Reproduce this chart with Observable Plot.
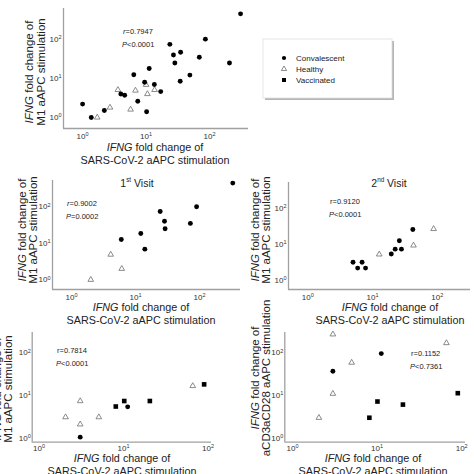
<!DOCTYPE html>
<html>
<head>
<meta charset="utf-8">
<script src="https://cdn.jsdelivr.net/npm/d3@7"></script>
<script src="https://cdn.jsdelivr.net/npm/@observablehq/plot@0.6"></script>
<style>
  html, body { margin: 0; padding: 0; background: #fff; }
  #fig { position: relative; width: 474px; height: 474px; overflow: hidden; background: #fff;
         font-family: "Liberation Sans", Arial, sans-serif; }
  #fig svg { position: absolute; left: 0; top: 0; }
</style>
</head>
<body>
<div id="fig"></div>
<script>
// ---- Panel A: all donors, M1 vs SARS-CoV-2 aAPC ----
const allConvX = [1.0, 1.37, 2.2, 4.0, 4.6, 6.4, 7.4, 9.5, 10.2, 11.2, 13.5, 17, 23.7, 27, 28.4, 35, 34.5, 49, 69, 86, 206, 308];
const allConvY = [2.2, 1.0, 1.5, 4.0, 3.7, 12.4, 2.6, 8.0, 1.4, 18, 7.0, 4.6, 75, 40, 25, 47, 8.5, 12.2, 35, 102, 25, 455];
const allHealthyX = [1.7, 2.7, 3.6, 5.7, 6.8, 10, 10.5, 13.6];
const allHealthyY = [1.0, 1.8, 5.1, 1.6, 4.9, 6.9, 4.0, 5.1];

// ---- Panel B: 1st visit ----
const v1ConvX = [6.0, 12.1, 14, 24.3, 28.4, 29, 72, 90, 331];
const v1ConvY = [12.7, 18.5, 6.9, 74, 40, 25, 35, 100, 445];
const v1HealthyX = [2.0, 4.1, 6.1];
const v1HealthyY = [1.0, 4.9, 2.0];

// ---- Panel C: 2nd visit ----
const v2ConvX = [5.0, 5.9, 6.9, 7.8, 19.5, 22.4, 26, 28, 42];
const v2ConvY = [3.2, 2.2, 3.2, 2.2, 5.4, 7.4, 12.6, 7.4, 26];
const v2HealthyX = [12.7, 43, 88];
const v2HealthyY = [5.3, 9.4, 27];

// ---- Panel D: vaccinated comparison, M1 aAPC ----
const m1HealthyX = [2.06, 3.07, 3.07, 5.1, 66];
const m1HealthyY = [3.1, 7.4, 2.1, 3.1, 16.7];
const m1ConvX = [3.07, 11.2];
const m1ConvY = [1.05, 5.4];
const m1VaccX = [8.1, 10.2, 20.5, 90];
const m1VaccY = [5.5, 7.4, 7.4, 18.2];

// ---- Panel E: vaccinated comparison, aCD3aCD28 aAPC ----
const cdHealthyX = [2.05, 3.0, 3.0, 5.0, 66];
const cdHealthyY = [3.0, 272, 11, 59, 170];
const cdConvX = [3.0, 11.2];
const cdConvY = [37, 96];
const cdVaccX = [8.1, 10.1, 20.2, 90];
const cdVaccY = [3.0, 7.2, 6.1, 11.3];

// ---- Shared labels ----
const groups = ["Convalescent", "Healthy", "Vaccinated"];
const tickValues = [1, 10, 100];
const stats = [
  {r: "r=0.7947", p: "<0.0001", italicR: true},
  {r: "r=0.9002", p: "=0.0002", italicR: true},
  {r: "r=0.9120", p: "<0.0001", italicR: false},
  {r: "r=0.7814", p: "<0.0001", italicR: false},
  {r: "r=0.1152", p: "<0.7361", italicR: false}
];

const W = 474, H = 474;
const fig = d3.select("#fig");
const rows = (xs, ys) => xs.map((x, i) => ({x, y: ys[i]}));
const fmtTick = d => "10^" + Math.round(Math.log10(d));
const AXIS = "#a0a0a0";

function panel({frame, xDomain, yDomain, conv, healthy, vacc, yPad = 2, xPad = 5}) {
  const [x0, x1, y0, y1] = frame;
  const marks = [
    Plot.ruleX([xDomain[0]], {stroke: AXIS, strokeWidth: 1.3}),
    Plot.ruleY([yDomain[0]], {stroke: AXIS, strokeWidth: 1.3})
  ];
  if (healthy) marks.push(Plot.dot(healthy, {x: "x", y: "y", symbol: "triangle", r: 2.1, stroke: "#6f6f6f", fill: "white", strokeWidth: 0.8}));
  if (conv) marks.push(Plot.dot(conv, {x: "x", y: "y", symbol: "circle", r: 2.45, fill: "black", stroke: "none"}));
  if (vacc) marks.push(Plot.dot(vacc, {x: "x", y: "y", symbol: "square", r: 2.6, fill: "black", stroke: "none"}));
  const svg = Plot.plot({
    width: W, height: H,
    marginLeft: x0, marginRight: W - x1, marginTop: y0, marginBottom: H - y1,
    x: {type: "log", domain: xDomain, ticks: tickValues, tickFormat: fmtTick, tickSize: 0, tickPadding: xPad, label: null},
    y: {type: "log", domain: yDomain, ticks: tickValues, tickFormat: fmtTick, tickSize: 0, tickPadding: yPad, label: null},
    style: {background: "transparent", overflow: "visible", fontSize: "8px",
            fontFamily: "'Liberation Sans', Arial, sans-serif", color: "#333"},
    marks
  });
  // power-of-ten tick labels with a raised exponent
  d3.select(svg).selectAll("text").each(function () {
    const m = /^10\^(-?\d+)$/.exec(this.textContent);
    if (m) {
      const t = d3.select(this);
      t.text("10");
      t.append("tspan").attr("dy", "-0.5em").attr("font-size", "5.5px").text(m[1]);
    }
  });
  fig.node().appendChild(svg);
}

panel({frame: [63, 248, 8, 128], xDomain: [0.5, 411], yDomain: [0.52, 624],
       conv: rows(allConvX, allConvY), healthy: rows(allHealthyX, allHealthyY)});
panel({frame: [52, 240, 180, 289], xDomain: [0.505, 437], yDomain: [0.54, 525],
       conv: rows(v1ConvX, v1ConvY), healthy: rows(v1HealthyX, v1HealthyY)});
panel({frame: [288, 470, 182, 289], xDomain: [0.503, 327], yDomain: [0.56, 525],
       conv: rows(v2ConvX, v2ConvY), healthy: rows(v2HealthyX, v2HealthyY)});
panel({frame: [31.7, 211, 332, 441.7], xDomain: [0.83, 110], yDomain: [0.8, 300],
       conv: rows(m1ConvX, m1ConvY), healthy: rows(m1HealthyX, m1HealthyY), vacc: rows(m1VaccX, m1VaccY), yPad: 1.5, xPad: 3});
panel({frame: [284.3, 465, 332, 441.7], xDomain: [0.81, 111], yDomain: [0.8, 300],
       conv: rows(cdConvX, cdConvY), healthy: rows(cdHealthyX, cdHealthyY), vacc: rows(cdVaccX, cdVaccY), yPad: 1.5, xPad: 3});

// ---- Text layer: axis titles, panel titles, statistics, legend ----
const ov = fig.append("svg").attr("width", W).attr("height", H).style("overflow", "visible")
  .attr("font-family", "'Liberation Sans', Arial, sans-serif").attr("fill", "#222");

function txt(x, y, parts, {size = 10, anchor = "start", rotate = false} = {}) {
  const t = ov.append("text").attr("font-size", size).attr("text-anchor", anchor);
  if (rotate) t.attr("transform", `translate(${x},${y}) rotate(-90)`);
  else t.attr("x", x).attr("y", y);
  let raised = false;
  for (const p of parts) {
    const s = t.append("tspan").text(p.t);
    if (p.i) s.attr("font-style", "italic");
    if (p.sup) { s.attr("font-size", size * 0.6).attr("dy", -size * 0.4); raised = true; }
    else if (raised) { s.attr("dy", size * 0.4); raised = false; }
  }
  return t;
}

const xLab1 = [{t: "IFNG", i: true}, {t: " fold change of"}];
const xLab2 = [{t: "SARS-CoV-2 aAPC stimulation"}];
const yLabM1 = [{t: "M1 aAPC stimulation"}];
const yLabCD = [{t: "aCD3aCD28 aAPC stimulation"}];
const XS = 10.8, YS = 11.5;

// x-axis titles
for (const [cx, b] of [[155, 150.5], [141, 311], [390, 311], [122, 462], [373, 462]]) {
  txt(cx, b, xLab1, {size: XS, anchor: "middle"});
  txt(cx, b + 13, xLab2, {size: XS, anchor: "middle"});
}
// y-axis titles
for (const [bx, cy, second] of [[33, 72, yLabM1], [25.5, 230, yLabM1], [258.5, 230, yLabM1], [0.5, 389, yLabM1], [258.5, 378, yLabCD]]) {
  txt(bx, cy, xLab1, {size: YS, anchor: "middle", rotate: true});
  txt(bx + 11.5, cy, second, {size: YS, anchor: "middle", rotate: true});
}

// panel titles
txt(137, 186.5, [{t: "1"}, {t: "st", sup: true}, {t: " Visit"}], {size: 10.5, anchor: "middle"});
txt(389, 186.5, [{t: "2"}, {t: "nd", sup: true}, {t: " Visit"}], {size: 10.5, anchor: "middle"});

// correlation statistics
const statPos = [[123, 33.5], [67, 205.5], [330, 203.5], [57, 352.5], [411, 356]];
stats.forEach((s, k) => {
  const [sx, sy] = statPos[k];
  txt(sx, sy, [{t: s.r[0], i: s.italicR}, {t: s.r.slice(1)}], {size: 7.5});
  txt(sx - 1, sy + 13, [{t: "P", i: true}, {t: s.p}], {size: 7.5});
});

// legend
ov.append("rect").attr("x", 265).attr("y", 41).attr("width", 129).attr("height", 59).attr("fill", "#b5b5b5");
ov.append("rect").attr("x", 263).attr("y", 39).attr("width", 129).attr("height", 59)
  .attr("fill", "white").attr("stroke", "#dedede").attr("stroke-width", 0.8);
const legSymbols = [d3.symbolCircle, d3.symbolTriangle, d3.symbolSquare];
groups.forEach((g, k) => {
  const cy = 58 + k * 11;
  const sym = ov.append("path").attr("transform", `translate(284,${cy})`)
    .attr("d", d3.symbol(legSymbols[k], k === 1 ? 12 : (k === 0 ? 14 : 16))());
  if (k === 1) sym.attr("fill", "white").attr("stroke", "#6f6f6f").attr("stroke-width", 0.8);
  else sym.attr("fill", "black");
  txt(296, cy + 3, [{t: g}], {size: 8});
});
</script>
</body>
</html>
